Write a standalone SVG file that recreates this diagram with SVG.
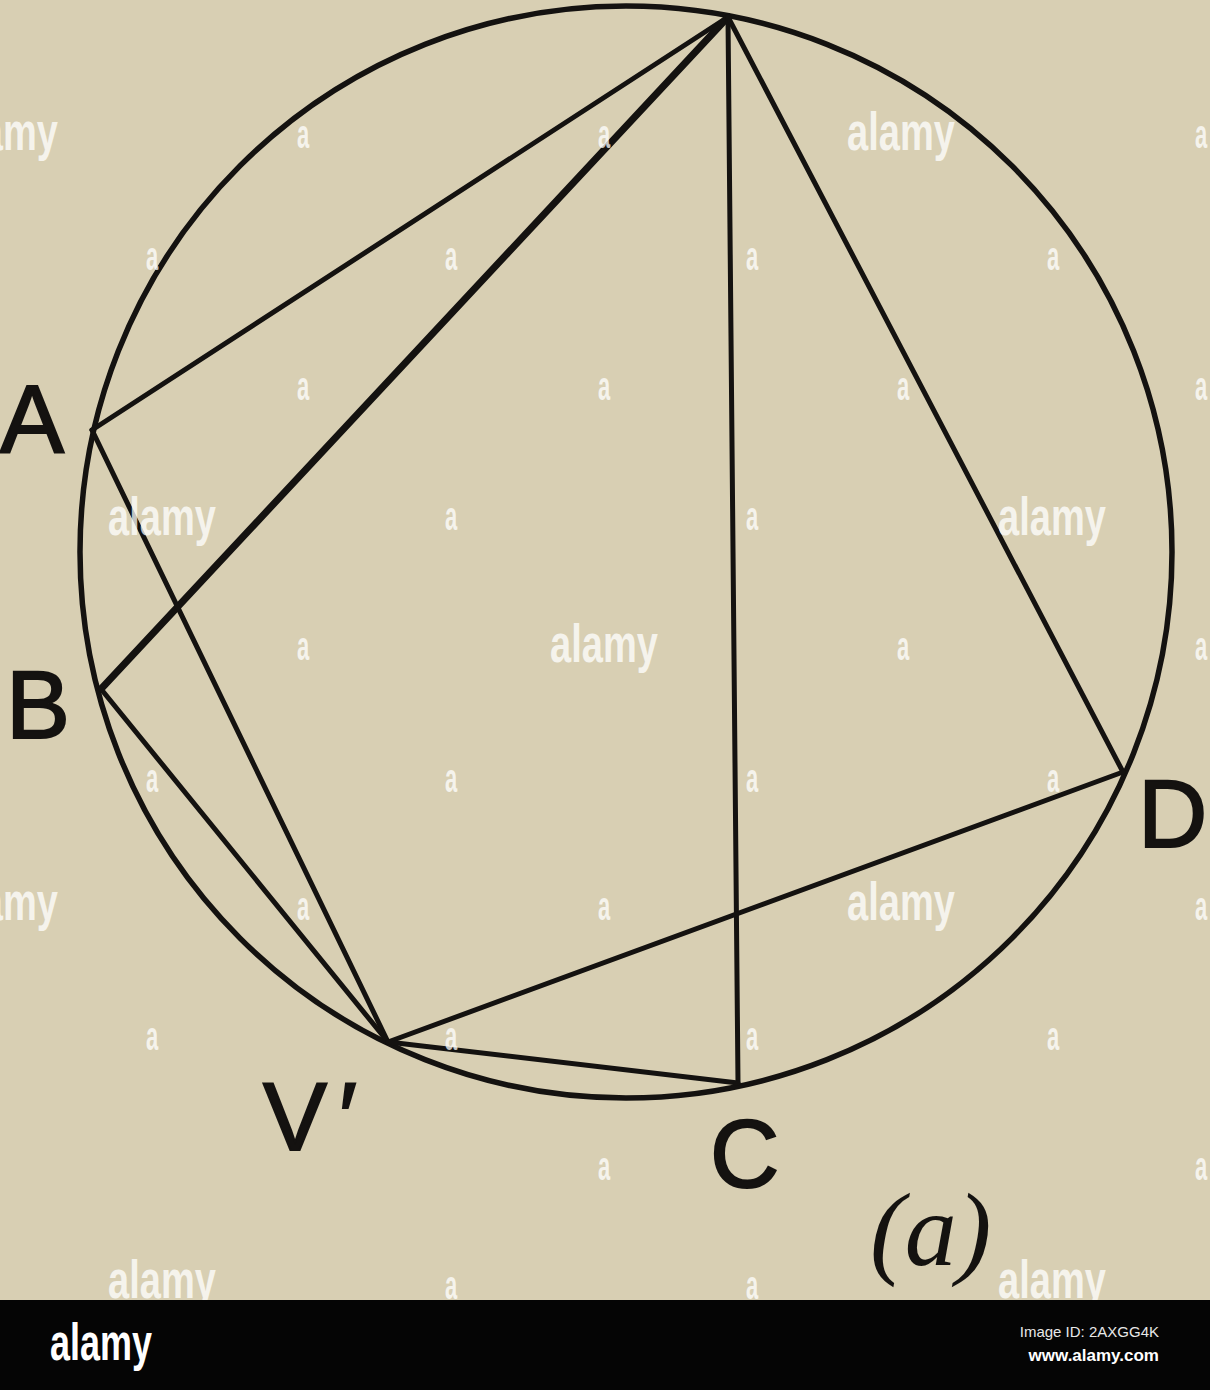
<svg xmlns="http://www.w3.org/2000/svg" width="1210" height="1390" viewBox="0 0 1210 1390">
<style>
.ln{stroke:#141210;stroke-width:5;fill:none;stroke-linecap:round}
.thick{stroke-width:7}
.lbl{font-family:"Liberation Sans",Arial,sans-serif;font-size:96px;fill:#141210;stroke:#141210;stroke-width:2}
.wm{font-family:"Liberation Sans",Arial,sans-serif;font-weight:bold;fill:#ffffff;fill-opacity:0.75}
.wa{font-size:40px}
.wb{font-size:54px}
</style>
<rect width="1210" height="1390" fill="#d8cfb3"/>
<g id="circle"><circle cx="626" cy="552" r="546" class="ln" style="stroke-width:5.5"/></g>
<g id="connectors">
<line class="ln" x1="728" y1="17" x2="92" y2="430"/>
<line class="ln thick" x1="728" y1="17" x2="101" y2="689"/>
<line class="ln" x1="728" y1="17" x2="738" y2="1083"/>
<line class="ln" x1="728" y1="17" x2="1123" y2="772"/>
<line class="ln" x1="92" y1="430" x2="388" y2="1042"/>
<line class="ln" x1="101" y1="689" x2="388" y2="1042"/>
<line class="ln" x1="388" y1="1042" x2="1123" y2="772"/>
<line class="ln" x1="388" y1="1042" x2="738" y2="1083"/>
</g>
<g id="label-A"><text class="lbl" x="0" y="452">A</text></g>
<g id="label-B"><text class="lbl" x="6" y="738">B</text></g>
<g id="label-V"><text class="lbl" x="263" y="1150">V<tspan dx="12">′</tspan></text></g>
<g id="label-C"><text class="lbl" x="710" y="1187">C</text></g>
<g id="label-D"><text class="lbl" x="1138" y="847">D</text></g>
<g id="caption"><text x="870" y="1265" style="font-family:'Liberation Serif','Times New Roman',serif;font-style:italic;font-size:104px;fill:#141210">(a)</text></g>
<g id="watermarks">
<text class="wm wa" text-anchor="middle" transform="translate(303,148) scale(0.55,1)">a</text>
<text class="wm wa" text-anchor="middle" transform="translate(604,148) scale(0.55,1)">a</text>
<text class="wm wa" text-anchor="middle" transform="translate(1201,148) scale(0.55,1)">a</text>
<text class="wm wa" text-anchor="middle" transform="translate(152,270) scale(0.55,1)">a</text>
<text class="wm wa" text-anchor="middle" transform="translate(451,270) scale(0.55,1)">a</text>
<text class="wm wa" text-anchor="middle" transform="translate(752,270) scale(0.55,1)">a</text>
<text class="wm wa" text-anchor="middle" transform="translate(1053,270) scale(0.55,1)">a</text>
<text class="wm wa" text-anchor="middle" transform="translate(303,400) scale(0.55,1)">a</text>
<text class="wm wa" text-anchor="middle" transform="translate(604,400) scale(0.55,1)">a</text>
<text class="wm wa" text-anchor="middle" transform="translate(903,400) scale(0.55,1)">a</text>
<text class="wm wa" text-anchor="middle" transform="translate(1201,400) scale(0.55,1)">a</text>
<text class="wm wa" text-anchor="middle" transform="translate(451,530) scale(0.55,1)">a</text>
<text class="wm wa" text-anchor="middle" transform="translate(752,530) scale(0.55,1)">a</text>
<text class="wm wa" text-anchor="middle" transform="translate(303,660) scale(0.55,1)">a</text>
<text class="wm wa" text-anchor="middle" transform="translate(903,660) scale(0.55,1)">a</text>
<text class="wm wa" text-anchor="middle" transform="translate(1201,660) scale(0.55,1)">a</text>
<text class="wm wa" text-anchor="middle" transform="translate(152,792) scale(0.55,1)">a</text>
<text class="wm wa" text-anchor="middle" transform="translate(451,792) scale(0.55,1)">a</text>
<text class="wm wa" text-anchor="middle" transform="translate(752,792) scale(0.55,1)">a</text>
<text class="wm wa" text-anchor="middle" transform="translate(1053,792) scale(0.55,1)">a</text>
<text class="wm wa" text-anchor="middle" transform="translate(303,920) scale(0.55,1)">a</text>
<text class="wm wa" text-anchor="middle" transform="translate(604,920) scale(0.55,1)">a</text>
<text class="wm wa" text-anchor="middle" transform="translate(1201,920) scale(0.55,1)">a</text>
<text class="wm wa" text-anchor="middle" transform="translate(152,1050) scale(0.55,1)">a</text>
<text class="wm wa" text-anchor="middle" transform="translate(451,1050) scale(0.55,1)">a</text>
<text class="wm wa" text-anchor="middle" transform="translate(752,1050) scale(0.55,1)">a</text>
<text class="wm wa" text-anchor="middle" transform="translate(1053,1050) scale(0.55,1)">a</text>
<text class="wm wa" text-anchor="middle" transform="translate(604,1180) scale(0.55,1)">a</text>
<text class="wm wa" text-anchor="middle" transform="translate(1201,1180) scale(0.55,1)">a</text>
<text class="wm wa" text-anchor="middle" transform="translate(451,1299) scale(0.55,1)">a</text>
<text class="wm wa" text-anchor="middle" transform="translate(752,1299) scale(0.55,1)">a</text>
<text class="wm wb" x="-50" y="150" textLength="108" lengthAdjust="spacingAndGlyphs">alamy</text>
<text class="wm wb" x="847" y="150" textLength="108" lengthAdjust="spacingAndGlyphs">alamy</text>
<text class="wm wb" x="108" y="535" textLength="108" lengthAdjust="spacingAndGlyphs">alamy</text>
<text class="wm wb" x="998" y="535" textLength="108" lengthAdjust="spacingAndGlyphs">alamy</text>
<text class="wm wb" x="550" y="662" textLength="108" lengthAdjust="spacingAndGlyphs">alamy</text>
<text class="wm wb" x="-50" y="920" textLength="108" lengthAdjust="spacingAndGlyphs">alamy</text>
<text class="wm wb" x="847" y="920" textLength="108" lengthAdjust="spacingAndGlyphs">alamy</text>
<text class="wm wb" x="108" y="1298" textLength="108" lengthAdjust="spacingAndGlyphs">alamy</text>
<text class="wm wb" x="998" y="1298" textLength="108" lengthAdjust="spacingAndGlyphs">alamy</text>
</g>
<g id="footer">
<rect x="0" y="1300" width="1210" height="90" fill="#050505"/>
<text x="50" y="1360" textLength="102" lengthAdjust="spacingAndGlyphs" style="font-family:'Liberation Sans',Arial,sans-serif;font-weight:bold;font-size:52px;fill:#ffffff">alamy</text>
<text x="1159" y="1337" text-anchor="end" style="font-family:'Liberation Sans',Arial,sans-serif;font-size:15px;fill:#e8e8e8">Image ID: 2AXGG4K</text>
<text x="1159" y="1361" text-anchor="end" style="font-family:'Liberation Sans',Arial,sans-serif;font-weight:bold;font-size:17px;fill:#ffffff">www.alamy.com</text>
</g>
</svg>
